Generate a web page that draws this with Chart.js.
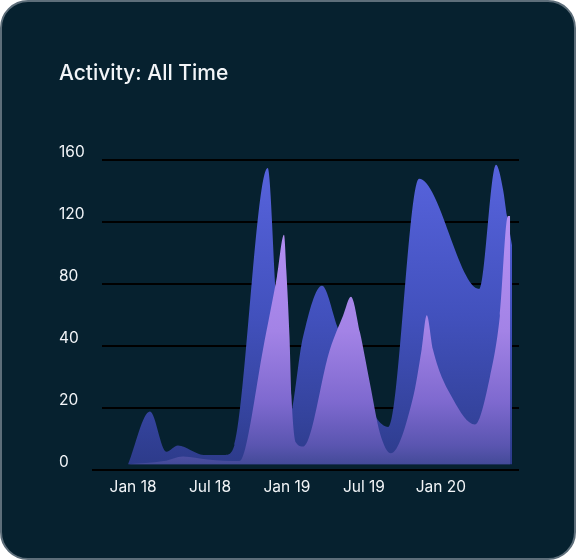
<!DOCTYPE html>
<html>
<head>
<meta charset="utf-8">
<script src="https://cdn.jsdelivr.net/npm/chart.js@4.4.1/dist/chart.umd.min.js"></script>
<style>
  html, body { margin: 0; padding: 0; background: #ffffff; }
  .card {
    position: absolute; left: 0; top: 0;
    width: 576px; height: 560px; box-sizing: border-box;
    border: 2px solid #5d6e7a; border-radius: 28px;
    background: #06212f;
  }
  #activity_chart { position: absolute; left: 0; top: 0; }
</style>
</head>
<body>
<div class="card"></div>
<canvas id="activity_chart" width="576" height="560"></canvas>
<script>
// values; x = months since Jan 2018
const TITLE = "Activity: All Time";
const Y_TICKS = [0, 20, 40, 80, 120, 160];
const X_TICK_MONTHS = [0, 6, 12, 18, 24];
const X_TICK_LABELS = ["Jan 18", "Jul 18", "Jan 19", "Jul 19", "Jan 20"];

const totalMonths = [-0.39, 1.32, 2.6, 3.5, 5.5, 7.2, 7.9, 10.5, 11.2, 12.1, 13.25, 14.73, 16.0, 19.9, 22.3, 27.0, 28.3, 28.85, 29.15, 29.55];
const totalValues = [2, 19, 6, 8, 5, 5, 8, 155, 68, 16, 46, 79, 51, 14, 148, 77, 157, 141, 124, 105];

const activeMonths = [-0.39, 2.4, 3.9, 5.8, 8.3, 8.73, 10.13, 11.22, 11.77, 11.95, 12.2, 12.35, 12.7, 13.25, 15.35, 16.37, 16.99, 17.69, 18.47, 19.25, 20.1, 21.8, 22.5, 22.9, 23.38, 24.94, 26.65, 27.83, 28.6, 29.23, 29.4];
const activeValues = [2, 3, 4.5, 3.5, 3, 6.8, 39, 85, 112, 89, 46, 24, 9, 7.7, 39, 59.7, 72, 49, 28, 12, 5.5, 23, 39, 60, 39, 23, 14.8, 30.3, 59.7, 124, 124];

const FILL_FLOOR = 2;

// the y axis is evenly spaced between uneven tick values
function toAxis(v) {
    for (let i = 0; i < Y_TICKS.length - 1; i++) {
        if (v <= Y_TICKS[i + 1]) {
            return i + (v - Y_TICKS[i]) / (Y_TICKS[i + 1] - Y_TICKS[i]);
        }
    }
    return Y_TICKS.length - 1;
}

function points(months, values) {
    return months.map((m, i) => ({ x: m, y: toAxis(values[i]) }));
}

function gradient(stops) {
    return function(context) {
        const { ctx, chartArea } = context.chart;
        if (!chartArea) return stops[0][1];
        const g = ctx.createLinearGradient(0, chartArea.top, 0, chartArea.bottom);
        stops.forEach(s => g.addColorStop(s[0], s[1]));
        return g;
    };
}

const textColor = "#f2f5f8";
const tickFont = { family: "Inter", size: 15.5 };

const ctx = document.getElementById("activity_chart");
const activity_chart = new Chart(ctx, {
    type: "line",
    data: {
        datasets: [{
            label: "Total",
            data: points(totalMonths, totalValues),
            order: 2,
            fill: { value: toAxis(FILL_FLOOR) },
            backgroundColor: gradient([[0, "#5864de"], [0.5, "#4251bd"], [0.85, "#33429a"], [1, "#2c3a88"]]),
        }, {
            label: "Active",
            data: points(activeMonths, activeValues),
            order: 1,
            fill: { value: toAxis(FILL_FLOOR) },
            backgroundColor: gradient([[0, "#b894f4"], [0.3, "#b08cf0"], [0.55, "#a383e6"], [0.78, "#7e69cf"], [0.92, "#5a55b0"], [1, "#3c4790"]]),
        }]
    },
    options: {
        responsive: false,
        animation: false,
        layout: { padding: { left: 59, right: 57, top: 50, bottom: 55 } },
        elements: {
            point: { radius: 0 },
            line: { borderWidth: 0, cubicInterpolationMode: "monotone" }
        },
        plugins: {
            legend: { display: false },
            tooltip: { enabled: false },
            title: {
                display: true,
                text: TITLE,
                align: "start",
                color: textColor,
                font: { family: "Inter", size: 21, weight: "500" },
                padding: { top: 11, bottom: 74 }
            }
        },
        scales: {
            x: {
                type: "linear",
                min: -2.42,
                max: 30.09,
                grid: { display: false, drawTicks: false },
                border: { display: false },
                afterBuildTicks: scale => {
                    scale.ticks = X_TICK_MONTHS.map(v => ({ value: v }));
                },
                ticks: {
                    color: textColor,
                    font: tickFont,
                    padding: 8,
                    maxRotation: 0,
                    autoSkip: false,
                    callback: v => X_TICK_LABELS[X_TICK_MONTHS.indexOf(v)]
                }
            },
            y: {
                min: 0,
                max: Y_TICKS.length - 1,
                afterBuildTicks: scale => {
                    scale.ticks = Y_TICKS.map((_, i) => ({ value: i }));
                },
                afterFit: scale => { scale.width = 43; },
                grid: {
                    color: "#000000",
                    lineWidth: 2,
                    drawTicks: true,
                    tickLength: 10,
                    tickColor: c => (c.tick && c.tick.value === 0) ? "#000000" : "rgba(0,0,0,0)"
                },
                border: { display: false },
                ticks: {
                    crossAlign: "far",
                    labelOffset: -8,
                    color: textColor,
                    font: tickFont,
                    callback: (v, i) => Y_TICKS[i]
                }
            }
        }
    }
});
</script>
</body>
</html>
